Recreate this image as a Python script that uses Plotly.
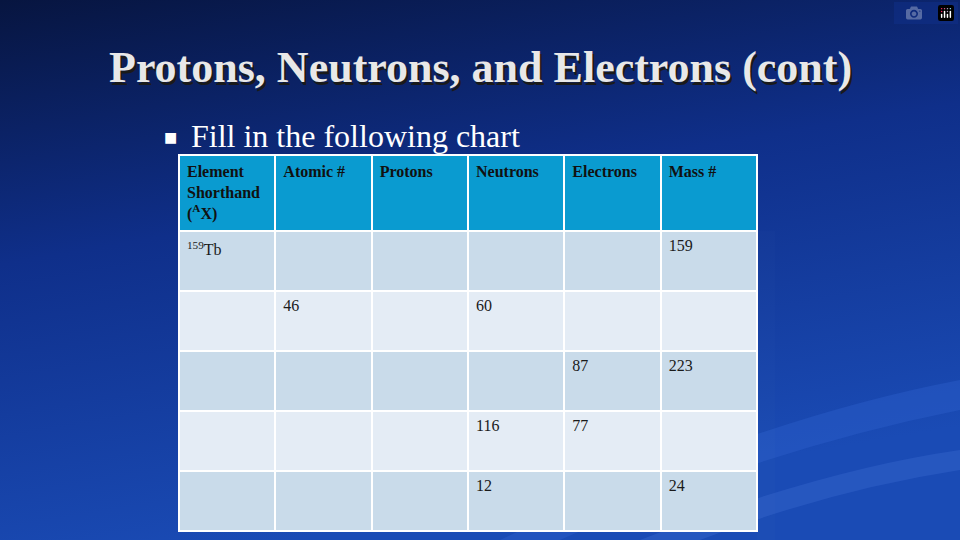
import plotly.graph_objects as go

title = "Protons, Neutrons, and Electrons (cont)"
bullet_text = "Fill in the following chart"
headers = ["<b>Element<br>Shorthand<br>(<sup>A</sup>X)</b>", "<b>Atomic #</b>", "<b>Protons</b>",
           "<b>Neutrons</b>", "<b>Electrons</b>", "<b>Mass #</b>"]
col_element = ["<sup>159</sup>Tb", "", "", "", ""]
col_atomic = ["", "46", "", "", ""]
col_protons = ["", "", "", "", ""]
col_neutrons = ["", "60", "", "116", "12"]
col_electrons = ["", "", "87", "77", ""]
col_mass = ["159", "", "223", "", "24"]

W, H = 960, 540
bg_svg = ("data:image/svg+xml;utf8,<svg xmlns='http://www.w3.org/2000/svg' width='960' height='540'>"
          "<defs><linearGradient id='g' x1='0' y1='0' x2='0.3' y2='1'>"
          "<stop offset='0' stop-color='%23071540'/><stop offset='0.45' stop-color='%230f2f8a'/>"
          "<stop offset='1' stop-color='%231a4bb5'/></linearGradient></defs>"
          "<rect width='960' height='540' fill='url(%23g)'/>"
          "<path d='M500 540 Q750 420 960 380 L960 410 Q760 450 560 540 Z' fill='%232a5cc8' opacity='0.5'/>"
          "<path d='M640 540 Q820 470 960 450 L960 470 Q830 490 700 540 Z' fill='%233a6ad0' opacity='0.4'/>"
          "</svg>")

n = len(col_element)
row_fills = ["#c9dbea" if i % 2 == 0 else "#e4ecf5" for i in range(n)]

fig = go.Figure(go.Table(
    domain=dict(x=[179/W, 757/W], y=[0, 1-155/H]),
    columnwidth=[1]*6,
    header=dict(values=headers, fill_color="#0a9bd0", line=dict(color="white", width=2),
                align="left", height=73,
                font=dict(family="Liberation Serif", size=16, color="#111111")),
    cells=dict(values=[col_element, col_atomic, col_protons, col_neutrons, col_electrons, col_mass],
               fill_color=[row_fills]*6, line=dict(color="white", width=2),
               align="left", height=60,
               font=dict(family="Liberation Serif", size=16, color="#1a1a1a")),
))

fig.update_layout(
    width=W, height=H, margin=dict(l=0, r=0, t=0, b=0),
    paper_bgcolor="#0f2f8a",
    images=[dict(source=bg_svg, xref="paper", yref="paper", x=0, y=1, sizex=1, sizey=1,
                 sizing="stretch", layer="below")],
    annotations=[
        dict(text=f"<b>{title}</b>", x=482/W, y=1-70/H, xref="paper", yref="paper", showarrow=False,
             font=dict(family="Liberation Serif", size=44, color="#1a1a1a"), xanchor="center", yanchor="middle"),
        dict(text=f"<b>{title}</b>", x=480/W, y=1-68/H, xref="paper", yref="paper", showarrow=False,
             font=dict(family="Liberation Serif", size=44, color="#e8e8e8"), xanchor="center", yanchor="middle"),
        dict(text="■", x=170/W, y=1-137/H, xref="paper", yref="paper", showarrow=False,
             font=dict(family="DejaVu Sans", size=14, color="white"), xanchor="center", yanchor="middle"),
        dict(text=bullet_text, x=189/W, y=1-136/H, xref="paper", yref="paper", showarrow=False,
             font=dict(family="Liberation Serif", size=32, color="white"), xanchor="left", yanchor="middle"),
    ],
)
fig.write_html("out.html", post_script="document.body.style.margin='0';")
